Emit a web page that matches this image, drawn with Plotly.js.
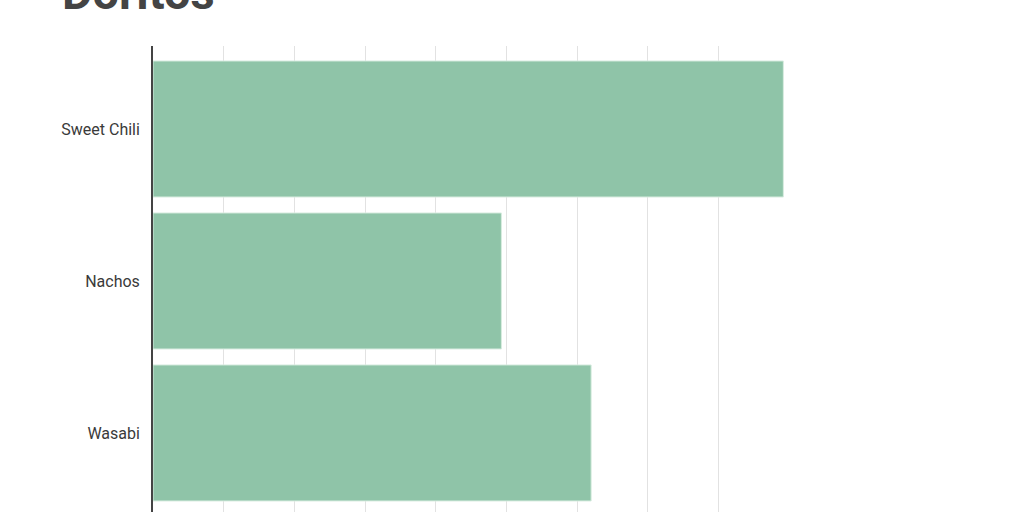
<!DOCTYPE html>
<html><head><meta charset="utf-8">
<script src="https://cdn.plot.ly/plotly-3.0.1.min.js"></script>
<style>html,body{margin:0;padding:0;overflow:hidden;background:#fff}#c{width:1024px;height:512px}</style>
</head><body><div id="c"></div>
<script>
const categories = ["Sweet Chili", "Nachos", "Wasabi"];
const values = [89.2, 49.3, 62.0];
const titleText = "Doritos";

const trace = {
  type: "bar",
  orientation: "h",
  y: categories,
  x: values,
  marker: {color: "#8fc4a8", line: {color: "#d8ece0", width: 1}},
  hoverinfo: "none"
};
const layout = {
  width: 1024, height: 512,
  margin: {l: 153, r: 235, t: 46, b: 0},
  paper_bgcolor: "#fff", plot_bgcolor: "#fff",
  showlegend: false,
  bargap: 0.105,
  annotations: [{text: "<b>" + titleText + "</b>", font: {family: "Roboto", size: 47, color: "#444"},
          xref: "paper", x: (63 - 153) / (1024 - 153 - 235), xanchor: "left", xshift: -3,
          yref: "paper", y: 1, yanchor: "bottom", yshift: 24, showarrow: false}],
  xaxis: {range: [0, 90], dtick: 10, showgrid: true, gridcolor: "#e2e2e2", gridwidth: 1,
          zeroline: false, showticklabels: false, ticks: "", showline: false, fixedrange: true},
  yaxis: {categoryorder: "array", categoryarray: categories, range: [2.52, -0.546],
          showgrid: false, zeroline: false, showline: true, linecolor: "#444", linewidth: 2,
          ticks: "", ticklen: 0, tickfont: {family: "Roboto", size: 16, color: "#3a3a3a"}, ticksuffix: "  ", fixedrange: true}
};
Plotly.newPlot("c", [trace], layout, {displayModeBar: false, staticPlot: true});
</script></body></html>
